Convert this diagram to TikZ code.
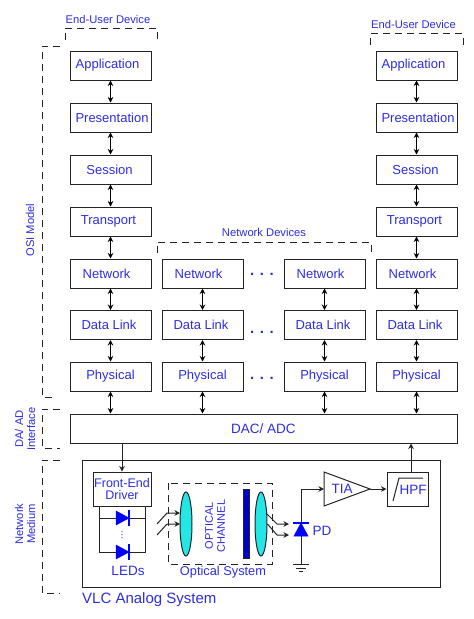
\documentclass[tikz,border=0pt]{standalone}
\usepackage{fontspec}
\setmainfont{Liberation Sans}
\usetikzlibrary{arrows.meta,shapes.geometric}
\definecolor{lblue}{RGB}{45,45,225}
\definecolor{lensc}{RGB}{35,230,230}
\definecolor{wire}{RGB}{35,35,35}
\tikzset{
  layer/.style={draw=wire, line width=1pt, minimum width=81pt, minimum height=29pt, inner sep=0pt, text=lblue, font=\fontsize{13}{13}\selectfont},
  updown/.style={{Stealth[length=5.5pt,width=5.5pt]}-{Stealth[length=5.5pt,width=5.5pt]}, line width=1.1pt},
  oneway/.style={-{Stealth[length=5.5pt,width=5.5pt]}, line width=1pt, draw=wire},
  dashline/.style={draw=wire, line width=1pt, dash pattern=on 7pt off 5pt},
  plainline/.style={draw=wire, line width=1pt},
  lbl/.style={text=lblue, inner sep=0pt},
  small/.style={lbl, font=\fontsize{11.2}{12}\selectfont},
  big/.style={lbl, font=\fontsize{13.5}{13.5}\selectfont},
  dotrow/.style={lbl, font=\fontsize{15}{15}\selectfont\bfseries},
  led/.style={fill=blue, draw=blue, line width=0.5pt},
  lens/.style={ellipse, draw=wire, line width=1pt, fill=lensc, minimum width=12pt, minimum height=64pt, inner sep=0pt},
}
\begin{document}
\begin{tikzpicture}[x=1pt, y=-1pt]
  \useasboundingbox (0,0) rectangle (474,619);

  % Equipo de usuario, izquierda
  \node[layer] (app1) at (110.5,65.5) {Application\kern6pt};
  \node[layer] (pre1) at (110.5,117.5) {\kern3pt Presentation};
  \node[layer] (ses1) at (110.5,169.5) {Session\kern2pt};
  \node[layer] (tra1) at (110.5,221.5) {Transport\kern4pt};
  \node[layer] (net1) at (110.5,273.5) {Network\kern8pt};
  \node[layer] (dat1) at (110.5,325) {Data Link\kern3pt};
  \node[layer] (phy1) at (110.5,376.5) {Physical};

  % Equipo de usuario, derecha
  \node[layer] (app4) at (416.5,65.5) {Application\kern6pt};
  \node[layer] (pre4) at (416.5,117.5) {\kern3pt Presentation};
  \node[layer] (ses4) at (416.5,169.5) {Session\kern2pt};
  \node[layer] (tra4) at (416.5,221.5) {Transport\kern4pt};
  \node[layer] (net4) at (416.5,273.5) {Network\kern8pt};
  \node[layer] (dat4) at (416.5,325) {Data Link\kern3pt};
  \node[layer] (phy4) at (416.5,376.5) {Physical};

  % Equipos de red
  \node[layer] (net2) at (202.5,273.5) {Network\kern8pt};
  \node[layer] (dat2) at (202.5,325) {Data Link\kern3pt};
  \node[layer] (phy2) at (202.5,376.5) {Physical};
  \node[layer] (net3) at (324.5,273.5) {Network\kern8pt};
  \node[layer] (dat3) at (324.5,325) {Data Link\kern3pt};
  \node[layer] (phy3) at (324.5,376.5) {Physical};

  % Conversor
  \node[layer, minimum width=387pt, font=\fontsize{13.5}{13.5}\selectfont] (dac) at (263.5,428.5) {DAC/ ADC};

  % Flechas entre capas
  \foreach \a/\b in {app1/pre1,pre1/ses1,ses1/tra1,tra1/net1,net1/dat1,dat1/phy1,
      app4/pre4,pre4/ses4,ses4/tra4,tra4/net4,net4/dat4,dat4/phy4,
      net2/dat2,dat2/phy2,net3/dat3,dat3/phy3}
    \draw[updown] (\a) -- (\b);
  \foreach \a in {phy1,phy2,phy3,phy4}
    \draw[updown] (\a.south) -- (\a.south |- dac.north);

  % Puntos suspensivos
  \node[dotrow] (dotsa) at (262,274) {. . .};
  \node[dotrow] (dotsb) at (262,332) {. . .};
  \node[dotrow] (dotsc) at (262,378) {. . .};

  % Marcos discontinuos
  \draw[dashline] (60,46) -- (42,46) -- (42,397) -- (54,397);
  \draw[dashline] (65,40) -- (65,28) -- (157,28) -- (157,40);
  \draw[dashline] (370.5,45) -- (370.5,33.5) -- (463,33.5) -- (463,45);
  \draw[dashline] (157,253) -- (157,242) -- (371,242) -- (371,253);
  \draw[dashline] (60,409) -- (42,409) -- (42,448) -- (60,448);
  \draw[dashline] (60,460) -- (42,460) -- (42,593) -- (60,593);

  \node[small] (lusera) at (108,19) {End-User Device};
  \node[small] (luserb) at (413.5,24.5) {End-User Device};
  \node[small] (lnet) at (264,232) {Network Devices};
  \node[small, rotate=90] (losi) at (30,230) {OSI Model};
  \node[small, rotate=90, align=center] (lda) at (25,429) {DA/ AD\\Interface};
  \node[small, rotate=90, align=center] (lmed) at (25,524) {Network\\Medium};

  % Sistema analogico
  \draw[plainline] (82,460) rectangle (440,587);
  \node[lbl, anchor=west, font=\fontsize{15}{15}\selectfont] (lvlc) at (82,600) {VLC Analog System};

  \node[layer, minimum width=58pt, minimum height=34pt, align=center, font=\fontsize{12.5}{12.5}\selectfont] (drv) at (122,489) {Front-End\\Driver};
  \draw[oneway] (dac.south -| drv.north) -- (drv.north);

  % Diodos emisores
  \coordinate (lt) at (99,506);
  \coordinate (rt) at (145,506);
  \draw[plainline] (lt) |- (145,552) -- (rt);
  \draw[plainline] (99,518) -- (145,518);
  \foreach \y in {518,552} {
    \fill[led] (116,\y-7) -- (129,\y) -- (116,\y+7) -- cycle;
    \draw[blue, line width=1.3pt] (129,\y-8) -- (129,\y+8);
  }
  \node[lbl, rotate=90, font=\fontsize{10}{10}\selectfont] (ldots) at (122,535) {...};
  \node[big] (lleds) at (128,571) {LEDs};

  % Luz de entrada
  \coordinate (ina) at (157,524);
  \coordinate (inb) at (157,535);
  \draw[oneway] (ina) -- (167,513) -- (180,513);
  \draw[oneway] (inb) -- (167,524) -- (180,524);

  % Sistema optico
  \draw[dashline] (168,483) rectangle (272,564);
  \node[lens] (lensa) at (186,524) {};
  \node[lens] (lensb) at (261,524) {};
  \draw[plainline, fill=blue!80!black] (243,489) rectangle (249,558);
  \node[lbl, rotate=90, align=center, font=\fontsize{11}{12}\selectfont] (lch) at (215,526) {OPTICAL\\CHANNEL};
  \node[lbl, font=\fontsize{12.8}{12.8}\selectfont] (lopt) at (223,572) {Optical System};

  % Luz de salida
  \draw[oneway] (266,513) -- (277,524) -- (289,524);
  \draw[oneway] (lensb.east) -- (277,535) -- (289,535);

  % Amplificador y fotodiodo
  \coordinate (tiain) at (324,489);
  \coordinate (tiaout) at (370,489);
  \coordinate (pdn) at (301,530);
  \coordinate (gnd) at (301,564);
  \draw[plainline] (324,472) -- (tiaout) -- (324,506) -- cycle;
  \node[big] (ltia) at (342,489) {TIA};
  \draw[plainline] (gnd) -- (pdn);
  \draw[oneway] (pdn) -- (301,489) -- (tiain);
  \fill[led] (301,523) -- (308,536) -- (294,536) -- cycle;
  \draw[blue, line width=1.3pt] (293,523) -- (309,523);
  \node[big] (lpd) at (322,531) {PD};
  \draw[plainline] (293,564) -- (309,564) (296,568) -- (306,568) (299,571) -- (303,571);

  % Filtro
  \node[layer, minimum width=41pt, minimum height=34pt] (hpf) at (407.5,489) {};
  \draw[plainline] (393,501) -- (399,478) -- (423,478);
  \node[big] (lhpf) at (413,490) {HPF};
  \draw[oneway] (tiaout) -- (hpf.west);
  \draw[oneway] (hpf.north -| 411,0) -- (dac.south -| 411,0);
\end{tikzpicture}
\end{document}
